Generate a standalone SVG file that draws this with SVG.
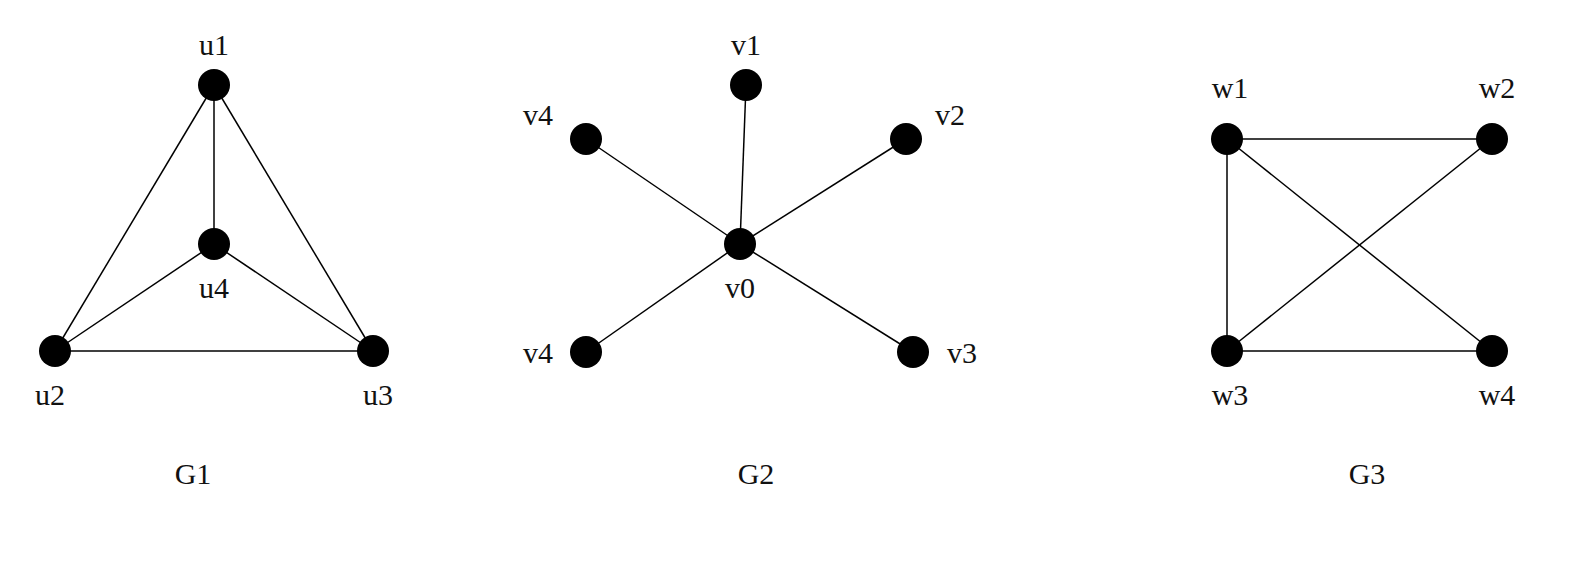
<svg xmlns="http://www.w3.org/2000/svg" width="1587" height="561" viewBox="0 0 1587 561">
<style>
.e{stroke:#000;stroke-width:1.5;fill:none}
.n{fill:#000}
text{font-family:"Liberation Serif",serif;font-size:30px;text-anchor:middle;fill:#111}
</style>
<rect width="1587" height="561" fill="#fff"/>
<g id="edges" class="e">
<line x1="214" y1="85" x2="214" y2="244"/><line x1="214" y1="85" x2="55" y2="351"/><line x1="214" y1="85" x2="373" y2="351"/>
<line x1="214" y1="244" x2="55" y2="351"/><line x1="214" y1="244" x2="373" y2="351"/><line x1="55" y1="351" x2="373" y2="351"/>
<line x1="740" y1="244" x2="746" y2="85"/><line x1="740" y1="244" x2="586" y2="139"/><line x1="740" y1="244" x2="906" y2="139"/>
<line x1="740" y1="244" x2="586" y2="352"/><line x1="740" y1="244" x2="913" y2="352"/>
<line x1="1227" y1="139" x2="1492" y2="139"/><line x1="1227" y1="139" x2="1227" y2="351"/><line x1="1227" y1="139" x2="1492" y2="351"/>
<line x1="1227" y1="351" x2="1492" y2="139"/><line x1="1227" y1="351" x2="1492" y2="351"/>
</g>
<g id="u1"><circle class="n" cx="214" cy="85" r="16"/><text x="214" y="55">u1</text></g>
<g id="u4"><circle class="n" cx="214" cy="244" r="16"/><text x="214" y="298">u4</text></g>
<g id="u2"><circle class="n" cx="55" cy="351" r="16"/><text x="50" y="405">u2</text></g>
<g id="u3"><circle class="n" cx="373" cy="351" r="16"/><text x="378" y="405">u3</text></g>
<text x="193" y="484">G1</text>
<g id="v1"><circle class="n" cx="746" cy="85" r="16"/><text x="746" y="55">v1</text></g>
<g id="v4a"><circle class="n" cx="586" cy="139" r="16"/><text x="538" y="125">v4</text></g>
<g id="v2"><circle class="n" cx="906" cy="139" r="16"/><text x="950" y="125">v2</text></g>
<g id="v0"><circle class="n" cx="740" cy="244" r="16"/><text x="740" y="298">v0</text></g>
<g id="v4b"><circle class="n" cx="586" cy="352" r="16"/><text x="538" y="363">v4</text></g>
<g id="v3"><circle class="n" cx="913" cy="352" r="16"/><text x="962" y="363">v3</text></g>
<text x="756" y="484">G2</text>
<g id="w1"><circle class="n" cx="1227" cy="139" r="16"/><text x="1230" y="98">w1</text></g>
<g id="w2"><circle class="n" cx="1492" cy="139" r="16"/><text x="1497" y="98">w2</text></g>
<g id="w3"><circle class="n" cx="1227" cy="351" r="16"/><text x="1230" y="405">w3</text></g>
<g id="w4"><circle class="n" cx="1492" cy="351" r="16"/><text x="1497" y="405">w4</text></g>
<text x="1367" y="484">G3</text>
</svg>
